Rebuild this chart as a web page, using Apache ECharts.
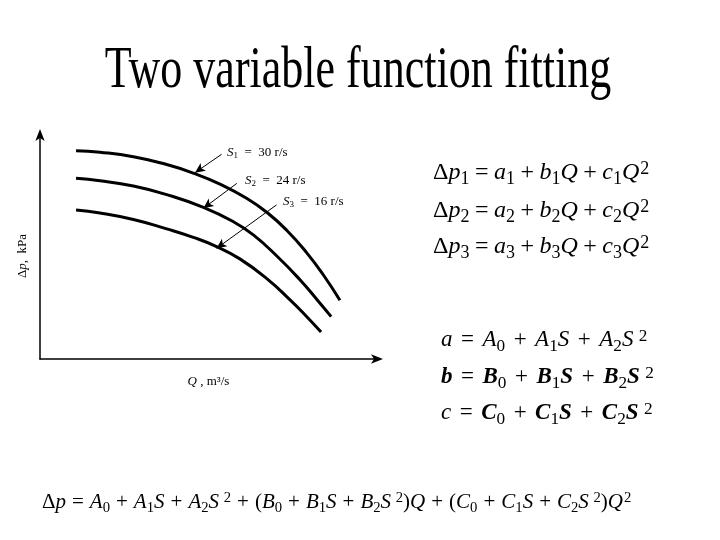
<!DOCTYPE html>
<html>
<head>
<meta charset="utf-8">
<script src="https://cdn.jsdelivr.net/npm/echarts@6/dist/echarts.min.js"></script>
<style>
html,body{margin:0;padding:0;background:#fff;}
#main{width:720px;height:540px;}
</style>
</head>
<body>
<div id="main"></div>
<script>
// Curve data (Q, Δp in arbitrary 0-100 units)
const q1 = [10.7, 17.8, 27.7, 37.6, 45.5, 53.4, 61.3, 67.3, 73.2, 79.1, 84.1, 89.0];
const dp1 = [93.0, 92.3, 90.3, 86.8, 83.0, 78.1, 71.8, 65.5, 57.5, 47.5, 37.5, 26.2];
const q2 = [10.7, 17.8, 27.7, 37.6, 48.5, 57.4, 63.3, 70.2, 77.2, 82.1, 86.4];
const dp2 = [80.7, 79.6, 77.2, 73.4, 67.7, 61.3, 55.4, 46.1, 35.3, 26.7, 18.9];
const q3 = [10.7, 17.8, 27.7, 37.6, 45.5, 52.4, 59.3, 67.3, 74.2, 79.1, 83.4];
const dp3 = [66.5, 65.2, 62.3, 58.1, 54.3, 50.2, 44.7, 35.9, 26.4, 19.0, 12.0];

// Curve labels
const speedNames = ['1', '2', '3'];
const speedValues = ['30 r/s', '24 r/s', '16 r/s'];
const labelAnchors = [[55.5, 92.0], [60.8, 79.5], [72.1, 70.1]];
const arrowFrom = [[53.9, 91.4], [58.4, 78.4], [70.2, 68.8]];
const arrowTo = [[46.0, 83.2], [48.5, 67.3], [52.4, 49.4]];

const titleText = 'Two variable function fitting';

const serif = '"Liberation Serif", "DejaVu Serif", serif';

function zip(a, b) { return a.map((v, i) => [v, b[i]]); }

const richMath = (size, pad, s) => {
  const lh = size * 1.5;
  const base = { fontFamily: serif, fontSize: size, color: '#000', lineHeight: lh, verticalAlign: 'middle' };
  return {
    n: Object.assign({}, base),
    o: Object.assign({}, base, { padding: [0, pad, 0, pad] }),
    i: Object.assign({}, base, { fontStyle: 'italic' }),
    b: Object.assign({}, base, { fontStyle: 'italic', fontWeight: 'bold' }),
    sub: { fontFamily: serif, fontSize: size * s, color: '#000', lineHeight: lh, verticalAlign: 'bottom', padding: [0, 0, size * 0.12, 0] },
    sup: { fontFamily: serif, fontSize: size * s, color: '#000', lineHeight: lh, verticalAlign: 'top', padding: [size * 0.22, 0, 0, 1] }
  };
};

const curves = [zip(q1, dp1), zip(q2, dp2), zip(q3, dp3)];

const series = curves.map((d, k) => ({
  type: 'line',
  data: d,
  smooth: true,
  showSymbol: false,
  lineStyle: { color: '#000', width: 3 },
  silent: true,
  markLine: {
    silent: true,
    symbol: ['none', 'arrow'],
    symbolSize: [7, 10],
    lineStyle: { color: '#000', width: 1, type: 'solid' },
    label: { show: false },
    data: [[{ coord: arrowFrom[k] }, { coord: arrowTo[k] }]]
  },
  markPoint: {
    silent: true,
    symbol: 'circle',
    symbolSize: 0,
    label: {
      show: true,
      position: 'right',
      distance: 0,
      formatter: '{i|S}{sub|' + speedNames[k] + '}  =  ' + speedValues[k],
      fontFamily: serif,
      fontSize: 13,
      color: '#000',
      rich: {
        i: { fontFamily: serif, fontStyle: 'italic', fontSize: 13, color: '#000' },
        sub: { fontFamily: serif, fontSize: 9, color: '#000', verticalAlign: 'bottom', lineHeight: 15 }
      }
    },
    data: [{ coord: labelAnchors[k] }]
  }
}));

function eqRow(k) {
  return '{n|Δ}{i|p}{sub|' + k + '}{o|=}{i|a}{sub|' + k + '}{o|+}{i|b}{sub|' + k + '}{i|Q}{o|+}{i|c}{sub|' + k + '}{i|Q}{sup|2}';
}

const chart = echarts.init(document.getElementById('main'));
chart.setOption({
  backgroundColor: '#fff',
  animation: false,
  grid: { left: 40, right: 343, top: 135, bottom: 181 },
  xAxis: {
    type: 'value', min: 0, max: 100,
    axisLine: { show: true, lineStyle: { color: '#000', width: 1.5 }, symbol: ['none', 'arrow'], symbolSize: [7, 12], symbolOffset: [0, 6] },
    axisTick: { show: false }, axisLabel: { show: false }, splitLine: { show: false },
    name: '{i|Q} , m³/s', nameLocation: 'middle', nameGap: 16,
    nameTextStyle: { fontFamily: serif, fontSize: 13, color: '#000',
      rich: { i: { fontFamily: serif, fontStyle: 'italic', fontSize: 13, color: '#000' } } }
  },
  yAxis: {
    type: 'value', min: 0, max: 100,
    axisLine: { show: true, lineStyle: { color: '#000', width: 1.5 }, symbol: ['none', 'arrow'], symbolSize: [7, 12], symbolOffset: [0, 6] },
    axisTick: { show: false }, axisLabel: { show: false }, splitLine: { show: false },
    name: 'Δ{i|p},  kPa', nameLocation: 'middle', nameGap: 11, nameRotate: 90,
    nameTextStyle: { fontFamily: serif, fontSize: 13, color: '#000', padding: [0, 0, 0, -18],
      rich: { i: { fontFamily: serif, fontStyle: 'italic', fontSize: 13, color: '#000' } } }
  },
  series: series,
  graphic: [
    {
      type: 'text', x: 358, y: 72, scaleY: 1.33, originX: 0, originY: 0,
      style: { text: titleText, font: '44px ' + serif, fill: '#000', textAlign: 'center', textVerticalAlign: 'middle' }
    },
    { type: 'text', x: 433, y: 173, style: { text: eqRow(1), rich: richMath(24, 5.5, 0.75), textVerticalAlign: 'middle' } },
    { type: 'text', x: 433, y: 211, style: { text: eqRow(2), rich: richMath(24, 5.5, 0.75), textVerticalAlign: 'middle' } },
    { type: 'text', x: 433, y: 247, style: { text: eqRow(3), rich: richMath(24, 5.5, 0.75), textVerticalAlign: 'middle' } },
    {
      type: 'text', x: 441, y: 340,
      style: { text: '{i|a}{o|=}{i|A}{sub|0}{o|+}{i|A}{sub|1}{i|S}{o|+}{i|A}{sub|2}{i|S}{sup| 2}', rich: richMath(23, 8.5, 0.75), textVerticalAlign: 'middle' }
    },
    {
      type: 'text', x: 441, y: 377,
      style: { text: '{b|b}{o|=}{b|B}{sub|0}{o|+}{b|B}{sub|1}{b|S}{o|+}{b|B}{sub|2}{b|S}{sup| 2}', rich: richMath(23, 8.5, 0.75), textVerticalAlign: 'middle' }
    },
    {
      type: 'text', x: 441, y: 413,
      style: { text: '{i|c}{o|=}{b|C}{sub|0}{o|+}{b|C}{sub|1}{b|S}{o|+}{b|C}{sub|2}{b|S}{sup| 2}', rich: richMath(23, 8.5, 0.75), textVerticalAlign: 'middle' }
    },
    {
      type: 'text', x: 42, y: 502,
      style: { text: '{n|Δ}{i|p}{o|=}{i|A}{sub|0}{o|+}{i|A}{sub|1}{i|S}{o|+}{i|A}{sub|2}{i|S}{sup| 2}{o|+}{n|(}{i|B}{sub|0}{o|+}{i|B}{sub|1}{i|S}{o|+}{i|B}{sub|2}{i|S}{sup| 2}{n|)}{i|Q}{o|+}{n|(}{i|C}{sub|0}{o|+}{i|C}{sub|1}{i|S}{o|+}{i|C}{sub|2}{i|S}{sup| 2}{n|)}{i|Q}{sup|2}', rich: richMath(21, 6, 0.7), textVerticalAlign: 'middle' }
    }
  ]
});
</script>
</body>
</html>
